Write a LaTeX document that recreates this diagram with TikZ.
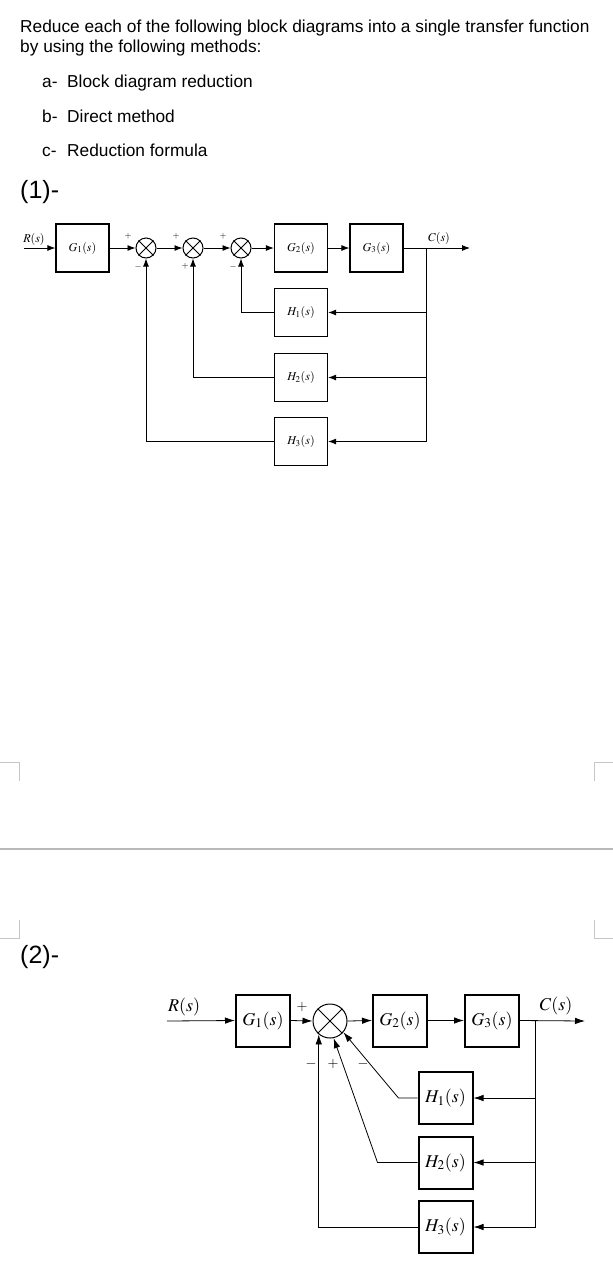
\documentclass[tikz,border=0pt]{standalone}
\usepackage{mathptmx}
\usepackage{fontspec}
\newfontfamily\docfont{Liberation Sans}
\usetikzlibrary{arrows.meta}

\begin{document}
\begin{tikzpicture}[x=1pt,y=-1pt,
    txt/.style={anchor=base west,inner sep=0pt,font=\docfont\fontsize{17.3}{20}\selectfont},
    num/.style={anchor=base west,inner sep=0pt,font=\docfont\fontsize{25}{28}\selectfont},
    blk/.style={draw,line width=1.2pt,minimum width=53pt,minimum height=48pt,inner sep=0pt,font=\fontsize{12}{14}\selectfont},
    sm/.style={draw,circle,line width=1pt,minimum size=20pt,inner sep=0pt},
    lab/.style={inner sep=0pt,font=\fontsize{12}{14}\selectfont},
    sgn/.style={inner sep=0pt,font=\fontsize{9}{10}\selectfont},
    ln/.style={line width=0.9pt},
    ar/.style={ln,-{Latex[length=8pt,width=6pt]}},
    Blk/.style={draw,line width=2pt,minimum width=54pt,minimum height=52pt,inner sep=0pt,font=\fontsize{18}{20}\selectfont},
    Sm/.style={draw,circle,line width=1pt,minimum size=34pt,inner sep=0pt},
    Lab/.style={inner sep=0pt,font=\fontsize{18}{20}\selectfont},
    Sgn/.style={inner sep=0pt,font=\fontsize{14}{16}\selectfont},
    Ar/.style={line width=0.8pt,-{Latex[length=10pt,width=6.5pt]}},
    crn/.style={gray!45,line width=0.8pt}]
    \useasboundingbox (0,0) rectangle (613,1267);

    \node[txt] (t1) at (20,32) {Reduce each of the following block diagrams into a single transfer function};
    \node[txt] (t2) at (20,52) {by using the following methods:};
    \node[txt] (ia) at (42,87) {a-};
    \node[txt] (ta) at (67,87) {Block diagram reduction};
    \node[txt] (ib) at (42,122) {b-};
    \node[txt] (tb) at (67,122) {Direct method};
    \node[txt] (ic) at (42,156) {c-};
    \node[txt] (tc) at (67,156) {Reduction formula};
    \node[num] (n1) at (20,198) {(1)-};

    \node[lab] (rs1) at (34,239) {$R(s)$};
    \coordinate (r1) at (24,248);
    \node[blk] (g1) at (82.5,248) {$G_1(s)$};
    \node[sm] (s1) at (146,248) {};
    \node[sm] (s2) at (193,248) {};
    \node[sm] (s3) at (241,248) {};
    \node[blk] (g2) at (301,248) {$G_2(s)$};
    \node[blk] (g3) at (376.5,248) {$G_3(s)$};
    \node[lab] (cs1) at (439,238) {$C(s)$};
    \coordinate (b1) at (426,248);
    \coordinate (c1) at (470,248);
    \node[blk] (h1) at (301,312.5) {$H_1(s)$};
    \node[blk] (h2) at (301,377.5) {$H_2(s)$};
    \node[blk] (h3) at (301,441.5) {$H_3(s)$};
    \node[sgn] at (128,236) {$+$};
    \node[sgn] at (138,267) {$-$};
    \node[sgn] at (176,236) {$+$};
    \node[sgn] at (185,266) {$+$};
    \node[sgn] at (223,236) {$+$};
    \node[sgn] at (233,267) {$-$};
    \draw[ar] (r1) -- (g1.west);
    \draw[ar] (g1.east) -- (s1.west);
    \draw[ar] (s1.east) -- (s2.west);
    \draw[ar] (s2.east) -- (s3.west);
    \draw[ar] (s3.east) -- (g2.west);
    \draw[ar] (g2.east) -- (g3.west);
    \draw[ar] (g3.east) -- (c1);
    \draw[ar] (b1) |- (h3.east);
    \draw[ar] (b1 |- h1) -- (h1.east);
    \draw[ar] (b1 |- h2) -- (h2.east);
    \draw[ar] (h1.west) -| (s3.south);
    \draw[ar] (h2.west) -| (s2.south);
    \draw[ar] (h3.west) -| (s1.south);

    \draw[gray!55,line width=1.2pt] (0,849) -- (613,849);
    \draw[crn] (0,762) -- (19,762) -- (19,781);
    \draw[crn] (613,762) -- (594,762) -- (594,781);
    \draw[crn] (19,920) -- (19,938) -- (0,938);
    \draw[crn] (594,920) -- (594,938) -- (613,938);
    \node[num] (n2) at (20,963) {(2)-};

    \node[Lab] (rs2) at (184,1007) {$R(s)$};
    \coordinate (r2) at (167,1021);
    \node[Blk] (G1) at (263,1020.5) {$G_1(s)$};
    \node[Sm] (S) at (330,1021) {};
    \node[Blk] (G2) at (400,1020.5) {$G_2(s)$};
    \node[Blk] (G3) at (492,1020.5) {$G_3(s)$};
    \node[Lab] (cs2) at (556,1006) {$C(s)$};
    \coordinate (b2) at (535,1021);
    \coordinate (c2) at (585,1021);
    \node[Blk] (H1) at (445.5,1098) {$H_1(s)$};
    \node[Blk] (H2) at (445.5,1162.5) {$H_2(s)$};
    \node[Blk] (H3) at (445.5,1227) {$H_3(s)$};
    \node[Sgn] at (302,1007) {$+$};
    \node[Sgn] at (311,1064) {$-$};
    \node[Sgn] at (333,1064) {$+$};
    \node[Sgn] at (363,1064) {$-$};
    \draw[Ar] (r2) -- (G1.west);
    \draw[Ar] (G1.east) -- (S.west);
    \draw[Ar] (S.east) -- (G2.west);
    \draw[Ar] (G2.east) -- (G3.west);
    \draw[Ar] (G3.east) -- (c2);
    \draw[Ar] (b2) |- (H3.east);
    \draw[Ar] (b2 |- H1) -- (H1.east);
    \draw[Ar] (b2 |- H2) -- (H2.east);
    \draw[Ar] (H1.west) -- ++(-19,0) -- (S.-40);
    \draw[Ar] (H2.west) -- ++(-40,0) -- (S.-78);
    \draw[Ar] (H3.west) -| (S.-130);

    \foreach \s in {s1,s2,s3,S}
        \draw[line width=1pt] (\s.45) -- (\s.225) (\s.135) -- (\s.-45);
\end{tikzpicture}
\end{document}
